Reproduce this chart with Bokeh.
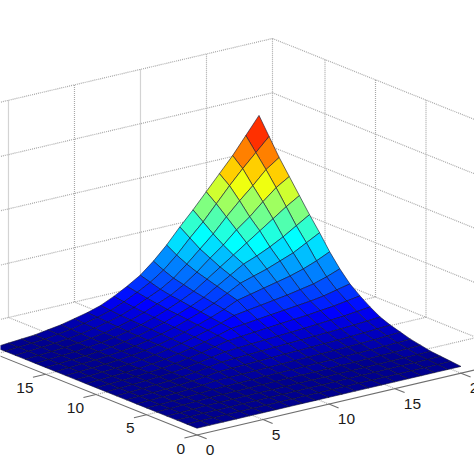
from bokeh.plotting import figure
from bokeh.models import ColumnDataSource, Range1d
from bokeh.embed import file_html
from bokeh.resources import INLINE
from bokeh.core.properties import value
import numpy as np

# Surface heights, rows by y index; each row lists x = y .. 20
# (the surface is symmetric in x and y)
Z_ROWS = [
 [0]*21,
 [.3,.3,.3,.4,.4,.4,.5,.5,.5,.6,.6,.6,.7,.7,.7,.8,.8,.9,.9,1],
 [.7,.7,.8,.8,.9,1,1,1.1,1.2,1.2,1.3,1.4,1.5,1.5,1.6,1.7,1.8,1.9,2],
 [1.2,1.3,1.4,1.5,1.6,1.7,1.8,1.9,2,2,2.1,2.2,2.3,2.4,2.5,2.7,2.8,3],
 [2,2.1,2.2,2.3,2.5,2.6,2.8,2.9,3,3.2,3.4,3.5,3.7,4,4.2,4.6,5],
 [3,3.2,3.4,3.6,3.8,4,4.2,4.4,4.6,4.8,5,5.3,5.6,6,6.5,7],
 [4.5,4.8,5,5.3,5.6,5.9,6.2,6.5,6.8,7.1,7.5,8,8.5,9.2,10],
 [6.5,7,7.4,7.8,8.2,8.6,9,9.4,9.8,10.2,10.8,11.4,12.2,13],
 [9,9.6,10.2,10.8,11.4,12,12.6,13.2,13.8,14.4,15,16,17],
 [12,13,13.8,14.6,15.4,16.2,17,18,19,20,21.5,23],
 [16,17.2,18.4,19.6,20.8,22,23,24.5,26,28,30],
 [21,22.5,24,25.5,27,28.5,30,32,35,38],
 [27,29,31,33,35,37.5,40,44,49],
 [35,38,41,44,47,51,56,62],
 [45,49,53,58,63,70,77],
 [57,62,68,75,83,91],
 [71,80,89,98,106],
 [90,102,113,121],
 [114,127,136],
 [140,153],
 [170],
]
Z_LIFT = 6.8          # surface sits this far above the floor of the box
X_TICKS = [0, 5, 10, 15, 20]
Y_TICKS = [0, 5, 10, 15, 20]
Z_TICKS = [0, 54.3, 108.6, 162.9, 217.2]
BOX_X = 25
BOX_Y = 25.2

# orthographic projection of the MATLAB view
OX, OY = 196.5, 434.5
XX, XY = 13.2, -3.09
YX, YY = -10.1, -4.05

def proj(x, y, z=0.0):
    x, y, z = np.asarray(x, float), np.asarray(y, float), np.asarray(z, float)
    return OX + XX*x + YX*y, OY + XY*x + YY*y - z

n = 21
Z = np.zeros((n, n))
for j, row in enumerate(Z_ROWS):
    for k, v in enumerate(row):
        Z[j, j+k] = v
        Z[j+k, j] = v

def jet(v):
    i = min(int(v*64), 63)
    t = (i+1)/64
    c = [np.clip(1.5-abs(4*t-a), 0, 1) for a in (3, 2, 1)]
    return "#%02x%02x%02x" % tuple(int(round(255*q)) for q in c)

p = figure(width=474, height=474, output_backend="svg", toolbar_location=None,
           x_range=Range1d(0, 474), y_range=Range1d(474, 0),
           min_border=0, outline_line_color=None, background_fill_color="white",
           x_axis_type=None, y_axis_type=None)
p.grid.visible = False
p.styles = {"position": "absolute", "left": "0px", "top": "0px"}

GRID = dict(line_color="#a8a8a8", line_width=1.2, line_dash="1 1")

# walls and floor grid
gx, gy = [], []
def seg(a, b):
    ax, ay = proj(*a); bx, by = proj(*b)
    gx.append([float(ax), float(bx)]); gy.append([float(ay), float(by)])
for t in Z_TICKS[1:]:
    seg((0, BOX_Y, t), (BOX_X, BOX_Y, t))
    seg((BOX_X, BOX_Y, t), (BOX_X, 0, t))
seg((BOX_X, BOX_Y, 0), (BOX_X, BOX_Y, Z_TICKS[-1]))
for t in [5, 10, 15, 20]:
    seg((t, BOX_Y, 0), (t, BOX_Y, Z_TICKS[-1]))
    seg((BOX_X, t, 0), (BOX_X, t, Z_TICKS[-1]))
    seg((t, 0, 0), (t, BOX_Y, 0))
    seg((0, t, 0), (BOX_X, t, 0))
seg((0, BOX_Y, 0), (BOX_X, BOX_Y, 0))
seg((BOX_X, 0, 0), (BOX_X, BOX_Y, 0))
p.multi_line(gx, gy, **GRID)

# axes and ticks
ax_x, ax_y = [], []
def aseg(a, b):
    u, v = proj(*a); s, w = proj(*b)
    ax_x.append([float(u), float(s)]); ax_y.append([float(v), float(w)])
aseg((0, 0, 0), (BOX_X, 0, 0))
aseg((0, 0, 0), (0, BOX_Y, 0))
for t in X_TICKS:
    aseg((t, 0, 0), (t, -0.95, 0))
for t in Y_TICKS:
    aseg((0, t, 0), (-0.95, t, 0))
p.multi_line(ax_x, ax_y, line_color="#6e6e6e", line_width=1.1)

# surface quads, painted from the back corner forward
order = sorted(((i, j) for i in range(n-1) for j in range(n-1)), key=lambda c: -(c[0]+c[1]))
xs, ys, cols = [], [], []
zmax = Z.max()
for i, j in order:
    cx = [i, i+1, i+1, i]
    cy = [j, j, j+1, j+1]
    cz = [Z[j, i]+Z_LIFT, Z[j, i+1]+Z_LIFT, Z[j+1, i+1]+Z_LIFT, Z[j+1, i]+Z_LIFT]
    px, py = proj(cx, cy, cz)
    xs.append(px.tolist()); ys.append(py.tolist())
    cols.append(jet(Z[j, i]/zmax))
p.patches("xs", "ys", source=ColumnDataSource(dict(xs=xs, ys=ys, c=cols)),
          fill_color="c", line_color="#101030", line_alpha=0.75, line_width=0.8)

# tick labels (the 20 on the y axis lies outside the picture)
tx, ty = proj(X_TICKS, [0]*len(X_TICKS))
p.text(tx+8.8, ty+15, text=[str(t) for t in X_TICKS], text_font=value("Liberation Sans"),
       text_font_size="15.5px", text_color="#1a1a1a", text_align="left", text_baseline="middle")
lx, ly = proj([0]*4, Y_TICKS[:4])
p.text(lx-12, ly+13.5, text=[str(t) for t in Y_TICKS[:4]], text_font=value("Liberation Sans"),
       text_font_size="15.5px", text_color="#1a1a1a", text_align="right", text_baseline="middle")

open("out.html", "w").write(file_html(p, INLINE))
